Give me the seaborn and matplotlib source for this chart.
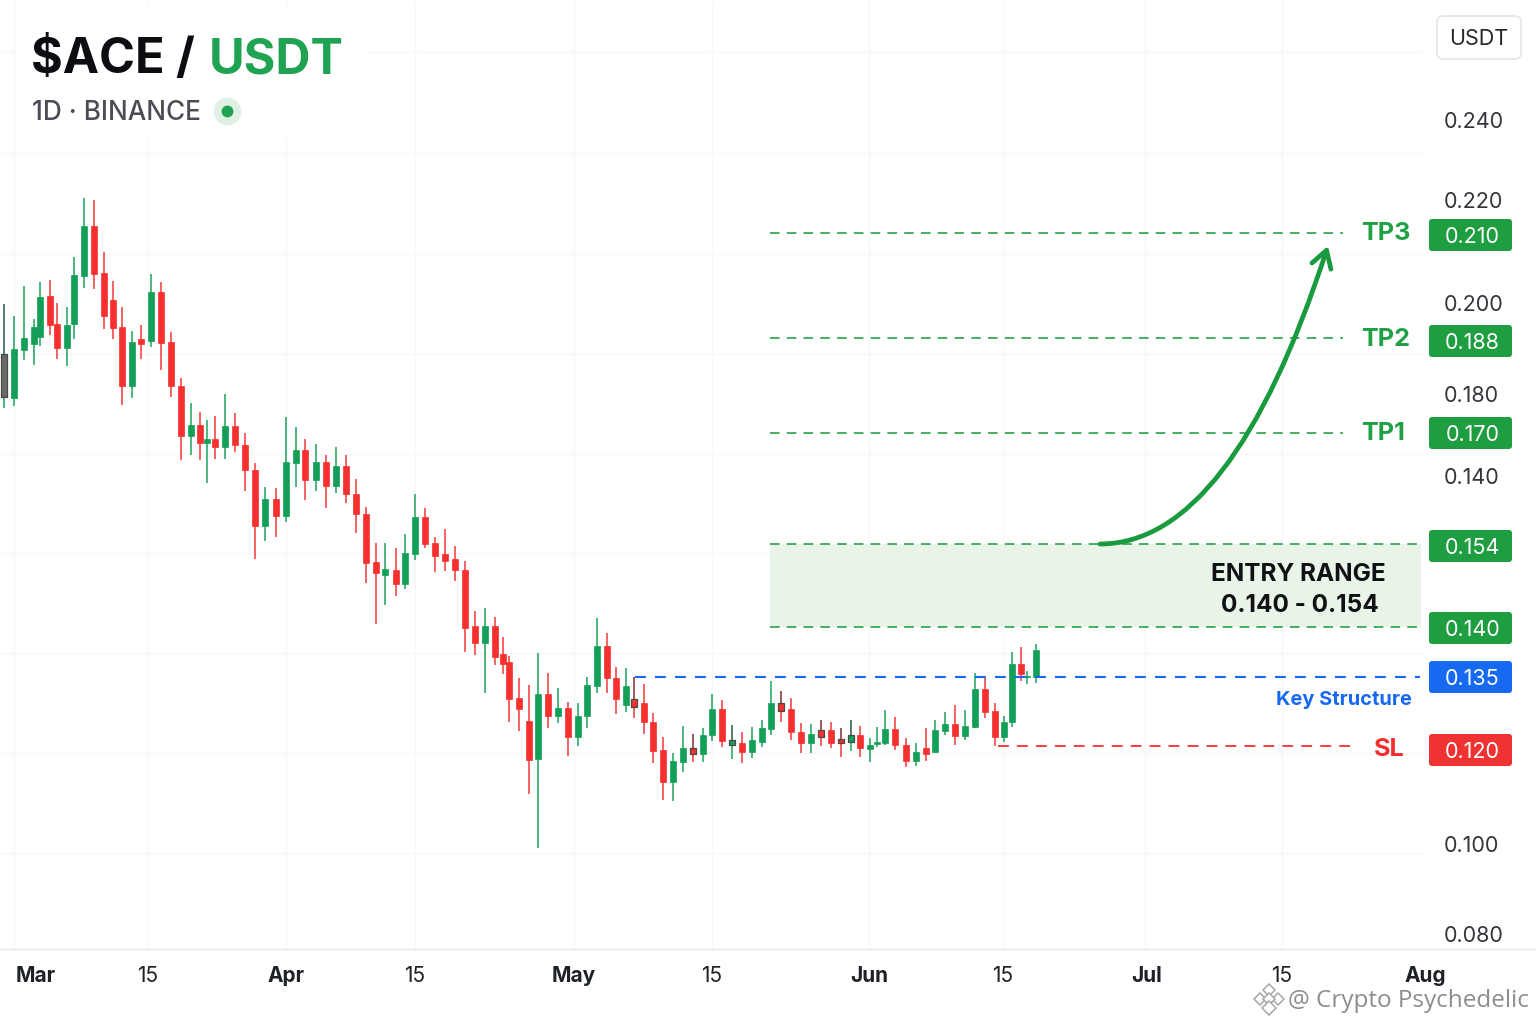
import numpy as np
import pandas as pd
import matplotlib
matplotlib.use("Agg")
import matplotlib.pyplot as plt
from matplotlib.patches import FancyBboxPatch, Rectangle
from matplotlib.transforms import IdentityTransform
import seaborn as sns

# ---- candles (bar slot on the time axis, then prices in USDT) ----
bar_slot = [
    0.4, 1.4, 2.4, 3.4, 4.0, 5.0, 5.7, 6.7, 7.4, 8.4,
    9.4, 10.4, 11.3, 12.2, 13.2, 14.1, 15.1, 16.1, 17.1, 18.1,
    19.1, 20.0, 20.7, 21.5, 22.5, 23.5, 24.5, 25.5, 26.5, 27.6,
    28.6, 29.6, 30.5, 31.6, 32.6, 33.6, 34.6, 35.6, 36.6, 37.6,
    38.5, 39.6, 40.5, 41.5, 42.5, 43.5, 44.5, 45.5, 46.5, 47.5,
    48.5, 49.5, 50.3, 50.9, 51.9, 52.9, 53.8, 54.8, 55.8, 56.8,
    57.8, 58.7, 59.7, 60.7, 61.6, 62.6, 63.4, 64.4, 65.3, 66.3,
    67.3, 68.3, 69.3, 70.3, 71.2, 72.2, 73.2, 74.2, 75.2, 76.2,
    77.1, 78.1, 79.1, 80.1, 81.1, 82.1, 83.1, 84.1, 85.1, 86.0,
    87.0, 87.7, 88.5, 89.5, 90.6, 91.6, 92.6, 93.5, 94.5, 95.5,
    96.5, 97.5, 98.5, 99.5, 100.4, 101.2, 102.1, 102.7, 103.6,
]
highs = [
    .1951, .1926, .1989, .1920, .1997, .2002, .1953, .1945, .2050, .2193,
    .2188, .2060, .1999, .1945, .1895, .1907, .2014, .1997, .1893, .1804,
    .1757, .1740, .1725, .1732, .1774, .1738, .1700, .1657, .1622, .1621,
    .1730, .1711, .1691, .1684, .1668, .1680, .1668, .1634, .1593, .1541,
    .1541, .1533, .1554, .1612, .1592, .1550, .1562, .1537, .1511, .1427,
    .1432, .1417, .1390, .1371, .1348, .1333, .1374, .1354, .1326, .1296,
    .1293, .1350, .1415, .1394, .1360, .1359, .1350, .1335, .1272, .1220,
    .1186, .1243, .1226, .1239, .1313, .1300, .1246, .1230, .1241, .1257,
    .1341, .1320, .1304, .1250, .1248, .1257, .1252, .1239, .1257, .1243,
    .1217, .1241, .1278, .1263, .1217, .1207, .1239, .1257, .1274, .1289,
    .1278, .1354, .1350, .1293, .1265, .1375, .1380, .1356, .1383,
]
opens = [
    .1768, .1766, .1857, .1869, .1882, .1968, .1909, .1861, .1909, .2010,
    .2119, .2016, .1960, .1903, .1789, .1878, .1874, .1976, .1872, .1789,
    .1696, .1715, .1686, .1691, .1680, .1714, .1683, .1647, .1566, .1605,
    .1580, .1657, .1675, .1632, .1658, .1624, .1652, .1612, .1583, .1510,
    .1488, .1496, .1473, .1523, .1579, .1541, .1523, .1515, .1496, .1402,
    .1384, .1402, .1373, .1365, .1304, .1254, .1173, .1313, .1265, .1283,
    .1220, .1265, .1330, .1381, .1348, .1289, .1302, .1293, .1252, .1192,
    .1127, .1167, .1196, .1184, .1224, .1280, .1202, .1207, .1188, .1209,
    .1237, .1293, .1280, .1230, .1207, .1235, .1235, .1215, .1209, .1224,
    .1194, .1204, .1207, .1237, .1202, .1169, .1196, .1188, .1233, .1248,
    .1222, .1241, .1324, .1276, .1220, .1252, .1363, .1350, .1350,
]
closes = [
    .1850, .1859, .1880, .1903, .1966, .1907, .1861, .1907, .2012, .2119,
    .2014, .1926, .1901, .1789, .1872, .1869, .1976, .1871, .1789, .1696,
    .1715, .1686, .1691, .1680, .1714, .1683, .1647, .1566, .1605, .1580,
    .1658, .1675, .1632, .1658, .1624, .1652, .1612, .1583, .1508, .1491,
    .1498, .1473, .1525, .1579, .1540, .1520, .1511, .1496, .1399, .1384,
    .1402, .1370, .1363, .1302, .1280, .1171, .1313, .1265, .1283, .1220,
    .1265, .1333, .1381, .1348, .1302, .1330, .1285, .1252, .1190, .1127,
    .1169, .1196, .1184, .1224, .1280, .1211, .1213, .1188, .1213, .1239,
    .1293, .1276, .1230, .1207, .1226, .1220, .1207, .1207, .1224, .1196,
    .1202, .1209, .1237, .1202, .1169, .1188, .1184, .1235, .1248, .1222,
    .1243, .1324, .1274, .1220, .1252, .1363, .1353, .1351, .1377,
]
lows = [
    .1747, .1751, .1838, .1829, .1865, .1886, .1840, .1827, .1878, .1985,
    .1983, .1899, .1878, .1753, .1766, .1840, .1863, .1819, .1768, .1661,
    .1668, .1661, .1628, .1662, .1662, .1673, .1616, .1515, .1544, .1550,
    .1572, .1622, .1603, .1616, .1592, .1613, .1599, .1556, .1474, .1405,
    .1437, .1452, .1464, .1513, .1533, .1493, .1494, .1478, .1375, .1372,
    .1315, .1362, .1353, .1252, .1233, .1102, .0991, .1239, .1250, .1180,
    .1200, .1239, .1315, .1315, .1270, .1274, .1261, .1226, .1165, .1090,
    .1088, .1147, .1167, .1167, .1211, .1198, .1173, .1165, .1176, .1198,
    .1224, .1252, .1213, .1186, .1186, .1200, .1196, .1178, .1190, .1178,
    .1167, .1198, .1202, .1192, .1157, .1159, .1169, .1186, .1224, .1202,
    .1213, .1239, .1261, .1200, .1209, .1241, .1341, .1335, .1337,
]
dark_bars = [0, 66, 72, 76, 81, 85, 87, 88]

# ---- axis labels ----
x_tick_at = [3.6, 14.8, 28.6, 41.5, 57.4, 71.2, 86.9, 100.3, 114.7, 128.2, 142.5]
x_tick_labels = ["Mar", "15", "Apr", "15", "May", "15", "Jun", "15", "Jul", "15", "Aug"]
x_grid_at = [1.4, 14.8, 28.6, 41.5, 57.4, 71.2, 86.9, 100.3, 114.5, 128.2]
y_tick_labels = ["0.240", "0.220", "0.200", "0.180", "0.140", "0.100", "0.080"]
y_tick_at = [.2400, .2188, .1953, .1774, .1638, .1000, .0800]
y_grid_at = [.2581, .2312, .2056, .1850, .1670, .1525, .1374, .1186, .0980]

# the printed price axis is not even, so the scale is warped through these marks
scale_price = [.0767, .0800, .1000, .1200, .1350, .1400, .1540, .1700, .1880, .2100, .2400, .2719]
scale_height = [0, 15, 105, 203, 272, 322, 405, 516, 611, 716, 829, 949]

# ---- trade levels ----
tp_names = ["TP3", "TP2", "TP1"]
tp_prices = [0.210, 0.188, 0.170]
entry_low = 0.140
entry_high = 0.154
key_price = 0.135
sl_price = 0.120
badge_labels = ["0.210", "0.188", "0.170", "0.154", "0.140", "0.135", "0.120"]

GREEN = "#149f58"
RED = "#f5302f"
LEVEL_GREEN = "#1f9d41"
BLUE = "#1769f2"
TITLE_GREEN = "#1fa252"

sns.set_theme(style="white")
plt.rcParams["font.family"] = ["Inter", "DejaVu Sans"]

fig = plt.figure(figsize=(15.36, 10.24), dpi=100)
fig.patch.set_facecolor("white")
ax = fig.add_axes([0, 1 - 949 / 1024, 1, 949 / 1024])


def to_height(p):
    return np.interp(p, scale_price, scale_height)


def to_price(h):
    return np.interp(h, scale_height, scale_price)


ax.set_yscale("function", functions=(to_height, to_price))
ax.set_xlim(0, 153.6)
ax.set_ylim(scale_price[0], scale_price[-1])

df = pd.DataFrame({"x": bar_slot, "high": highs, "open": opens, "close": closes, "low": lows})
df["up"] = df["close"] >= df["open"]
df["color"] = np.where(df["up"], GREEN, RED)
df["top"] = df[["open", "close"]].max(axis=1)
df["bottom"] = df[["open", "close"]].min(axis=1)

# ---- faint grid ----
ax.hlines(y_grid_at, 0, 142.2, color="#f6f7f7", lw=1, zorder=0)
ax.vlines(x_grid_at, scale_price[0], scale_price[-1], color="#f6f7f7", lw=1, zorder=0)
ax.add_patch(Rectangle((18 / 1536, 1 - 138 / 949), 350 / 1536, 128 / 949,
                       transform=ax.transAxes, fc="white", ec="none", zorder=0.5))

# ---- entry zone ----
ax.fill_between([77.0, 142.1], entry_low, entry_high, color="#e7f4e7", lw=0, zorder=1)

# ---- candles ----
ax.vlines(df["x"], df["low"], df["high"], colors=df["color"], lw=1.25, alpha=0.85, zorder=3)
ax.bar(df["x"], df["top"] - df["bottom"], bottom=df["bottom"], width=0.68,
       color=df["color"], edgecolor=df["color"], lw=0.5, zorder=4)
for i in dark_bars:
    face = "#6a6a66" if i == 0 else df["color"][i]
    ax.vlines(df["x"][i], df["top"][i], df["high"][i], colors="#555555", lw=1.1, alpha=0.7, zorder=3.5)
    ax.bar(df["x"][i], df["top"][i] - df["bottom"][i], bottom=df["bottom"][i], width=0.68,
           color=face, edgecolor="#4a4a4a", lw=0.9, zorder=5)


# ---- dashed levels ----
def level(x0, x1, price, color, lw=1.15, dash=(6, 4.5)):
    line = pd.DataFrame({"x": [x0, x1], "y": [price, price]})
    sns.lineplot(data=line, x="x", y="y", ax=ax, color=color, lw=lw, errorbar=None,
                 linestyle=(0, dash), zorder=6, legend=False)


for p in tp_prices:
    level(77.0, 134.3, p, LEVEL_GREEN)
level(77.0, 142.0, entry_high, LEVEL_GREEN)
level(77.0, 142.0, entry_low, LEVEL_GREEN)
level(63.5, 142.0, key_price, BLUE, lw=1.5, dash=(5.2, 4.4))
level(99.8, 135.0, sl_price, RED, lw=1.3, dash=(6, 4.5))

# ---- arrow ----
ax.annotate("", xy=(132.8, .2073), xytext=(110.0, entry_high),
            arrowprops=dict(arrowstyle="->,head_length=1.0,head_width=0.6", color="#1a9a3e", lw=3.4,
                            shrinkA=0, shrinkB=0, connectionstyle="angle3,angleA=0,angleB=72"),
            zorder=7)

ax.set_xticks(x_tick_at, labels=x_tick_labels)
ax.set_yticks(y_tick_at, labels=y_tick_labels)
ax.minorticks_off()
ax.set_xlabel("")
ax.set_ylabel("")
ax.tick_params(axis="x", bottom=False, pad=6, labelsize=15, labelcolor="#1e2126")
ax.tick_params(axis="y", left=False, right=False, labelleft=False, labelright=True,
               pad=-72.5, labelsize=15.5, labelcolor="#33363b")
for t in ax.get_xticklabels():
    if not t.get_text().isdigit():
        t.set_fontweight("bold")
sns.despine(ax=ax, left=True, top=True, right=True)
ax.spines["bottom"].set_color("#e4e6e8")
ax.spines["bottom"].set_linewidth(1)
ax.patch.set_alpha(0)


def fx(x):
    return x / 1536


def fy(y):
    return 1 - y / 1024


def ptext(x, y, s, **kw):
    kw.setdefault("va", "center")
    return fig.text(fx(x), fy(y), s, **kw)


def pbox(x0, y0, x1, y1, fc, ec="none", r=4, lw=1):
    fig.add_artist(FancyBboxPatch((x0 + r, 1024 - y1 + r), x1 - x0 - 2 * r, y1 - y0 - 2 * r,
                                  boxstyle=f"round,pad={r},rounding_size={r}", fc=fc, ec=ec, lw=lw,
                                  transform=IdentityTransform()))


def pdot(x, y, size, fc, ec="none", marker="o", mew=1):
    fig.add_artist(plt.Line2D([fx(x)], [fy(y)], marker=marker, ms=size, mfc=fc, mec=ec, mew=mew,
                              ls="none", transform=fig.transFigure))


# ---- title ----
ptext(31, 60, "$ACE /", fontsize=35, fontweight="bold", color="#0c0d10")
ptext(209, 60, "USDT", fontsize=35, fontweight="bold", color=TITLE_GREEN)
ptext(32, 113, "1D · BINANCE", fontsize=18.8, fontweight="medium", color="#4a4d53")
pdot(226.5, 110.5, 20, "#dff1e3")
pdot(226.5, 110.5, 8.5, TITLE_GREEN)

# ---- currency box ----
pbox(1437, 16, 1521, 59, "white", ec="#e3e5e8", r=6, lw=1.2)
ptext(1479, 39, "USDT", fontsize=15.5, color="#26292e", ha="center")

# ---- badges and level names ----
badge_y = [235, 341, 433, 546, 628, 677, 750]
badge_fc = [LEVEL_GREEN] * 5 + [BLUE, "#ef3232"]
for lab, by, fc in zip(badge_labels, badge_y, badge_fc):
    pbox(1429, by - 16, 1512, by + 16, fc, r=3)
    ptext(1472.5, by + 2, lab, fontsize=15.5, color="white", ha="center")
for name, ny in zip(tp_names, [233, 339, 433]):
    ptext(1361, ny, name, fontsize=18.2, fontweight="bold", color="#1fa045")
ptext(1374, 749, "SL", fontsize=18.2, fontweight="bold", color="#f12f2f")
ptext(1412, 700, "Key Structure", fontsize=14.4, fontweight="bold", color=BLUE, ha="right")

# ---- entry text ----
ptext(1298, 574.5, "ENTRY RANGE", fontsize=17.5, fontweight="bold", color="#101114", ha="center")
ptext(1300, 605, "0.140 - 0.154", fontsize=17.5, fontweight="bold", color="#101114", ha="center")

# ---- watermark ----
ptext(1288, 1001, "@ Crypto Psychedelic", fontsize=17.5, family="Open Sans", color="#8b8d90")
for dx, dy, s in [(0, -9, 6.5), (-9, 0, 6.5), (9, 0, 6.5), (0, 0, 6.5), (0, 9, 7.5)]:
    pdot(1268.5 + dx, 999 + dy, s, "white", ec="#a5a7aa", marker="D", mew=1.1)

fig.savefig("out.png", dpi=100)
